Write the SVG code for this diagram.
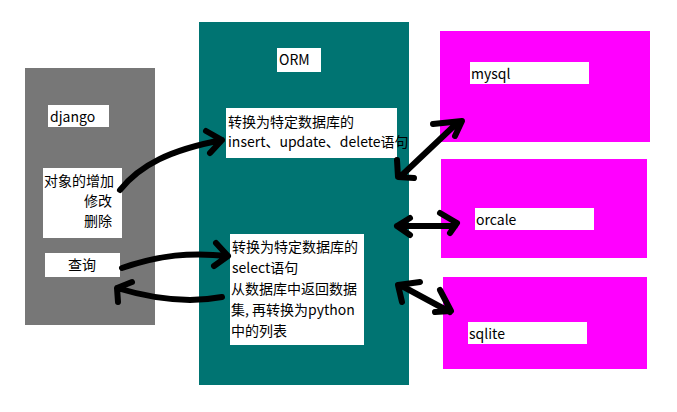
<svg xmlns="http://www.w3.org/2000/svg" width="677" height="412" viewBox="0 0 677 412">
<style>
text{font-family:"Noto Sans CJK SC","Noto Sans",sans-serif;font-size:14px;fill:#000}
.lb{fill:#fff}
.a{fill:none;stroke:#000;stroke-width:6;stroke-linecap:round;stroke-linejoin:round}
</style>
<rect width="677" height="412" fill="#fff"/>
<g id="django">
<rect x="25" y="68" width="130" height="257" fill="#777"/>
<rect class="lb" x="48" y="105" width="61" height="22"/>
<text x="50" y="122">django</text>
<rect class="lb" x="43" y="168" width="79" height="70"/>
<text x="44" y="186">对象的增加</text>
<text x="84" y="206">修改</text>
<text x="84" y="226">删除</text>
<rect class="lb" x="45" y="253" width="75" height="24"/>
<text x="68" y="270">查询</text>
</g>
<g id="orm">
<rect x="199" y="22" width="210" height="363" fill="#007472"/>
<rect class="lb" x="277" y="48" width="44" height="24"/>
<text x="279" y="65">ORM</text>
<rect class="lb" x="226" y="108" width="171" height="50"/>
<text x="228" y="127">转换为特定数据库的</text>
<text x="228" y="147">insert、update、delete语句</text>
<rect class="lb" x="230" y="234" width="134" height="111"/>
<text x="232" y="252">转换为特定数据库的</text>
<text x="232" y="273">select语句</text>
<text x="231" y="294">从数据库中返回数据</text>
<text x="231" y="315">集, 再转换为python</text>
<text x="231" y="336">中的列表</text>
</g>
<g id="mysql">
<rect x="440" y="31" width="210" height="111" fill="#f0f"/>
<rect class="lb" x="470" y="62" width="119" height="22"/>
<text x="471" y="79">mysql</text>
</g>
<g id="orcale">
<rect x="441" y="159" width="206" height="99" fill="#f0f"/>
<rect class="lb" x="475" y="208" width="119" height="22"/>
<text x="476" y="225">orcale</text>
</g>
<g id="sqlite">
<rect x="443" y="277" width="204" height="92" fill="#f0f"/>
<rect class="lb" x="468" y="322" width="119" height="22"/>
<text x="469" y="339">sqlite</text>
</g>
<g id="connectors">
<path class="a" d="M120,190 C140,165 170,150 222,140 M206,131 L222,140 L210,153"/>
<path class="a" d="M122,268 C160,255 190,252 228,256 M216,243 L228,256 L214,266"/>
<path class="a" d="M222,297 C185,304 150,298 117,288 M132,282 L117,288 L118,302"/>
<path class="a" d="M400,177 L455,125 M433,124 L462,121 L455,136 M397,160 L398,177 L414,178"/>
<path class="a" d="M397,226 L455,226 M440,213 L457,223 L450,233 M410,218 L397,226 L410,235"/>
<path class="a" d="M400,285 L450,312 M402,302 L398,285 L420,282 M440,290 L451,311 L435,312"/>
</g>
</svg>
